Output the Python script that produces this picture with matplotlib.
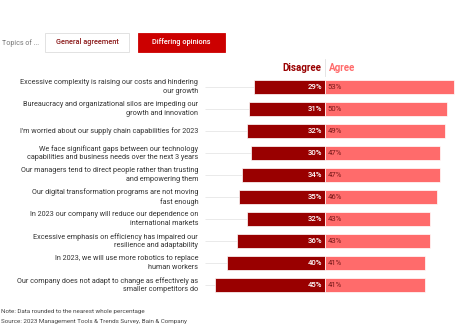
import matplotlib.pyplot as plt
from matplotlib.patches import FancyBboxPatch

plt.rcParams['font.family'] = ['Roboto', 'DejaVu Sans']

statements = [
    "Excessive complexity is raising our costs and hindering\nour growth",
    "Bureaucracy and organizational silos are impeding our\ngrowth and innovation",
    "I'm worried about our supply chain capabilities for 2023",
    "We face significant gaps between our technology\ncapabilities and business needs over the next 3 years",
    "Our managers tend to direct people rather than trusting\nand empowering them",
    "Our digital transformation programs are not moving\nfast enough",
    "In 2023 our company will reduce our dependence on\ninternational markets",
    "Excessive emphasis on efficiency has impaired our\nresilience and adaptability",
    "In 2023, we will use more robotics to replace\nhuman workers",
    "Our company does not adapt to change as effectively as\nsmaller competitors do",
]
disagree = [29, 31, 32, 30, 34, 35, 32, 36, 40, 45]
agree = [53, 50, 49, 47, 47, 46, 43, 43, 41, 41]

dark_red = '#990000'
light_red = '#ff6b6b'
grey_text = '#333333'

fig = plt.figure(figsize=(4.74, 3.35), dpi=100)
ax = fig.add_axes([205 / 474, 1 - 296 / 335, 1 - 205 / 474, 220 / 335])

y = list(range(len(statements)))
xmin, xmax = -49, 61

# thin guide lines from the label column to each bar
ax.hlines(y, xmin, [-d for d in disagree], color='#e6e6e6', lw=0.6, zorder=1)

ax.barh(y, [-d for d in disagree], height=0.6, color=dark_red,
        edgecolor='white', linewidth=0.5, zorder=2)
ax.barh(y, agree, height=0.6, color=light_red,
        edgecolor='white', linewidth=0.5, zorder=2)

for i in y:
    ax.text(-1.2, i, f"{disagree[i]}%", ha='right', va='center',
            color='white', fontsize=5.6, fontweight='medium', zorder=3)
    ax.text(1.2, i, f"{agree[i]}%", ha='left', va='center',
            color='#7a1a1a', fontsize=5.6, zorder=3)
    ax.text(xmin - 2.8, i, statements[i], ha='right', va='center',
            fontsize=5.25, color=grey_text, linespacing=1.3)

ax.set_xlim(xmin, xmax)
ax.set_ylim(len(statements) - 0.5, -0.5)
ax.axis('off')

# column headers
ax.text(-1.5, -0.85, "Disagree", ha='right', va='center',
        color=dark_red, fontsize=7, fontweight='bold')
ax.text(1.5, -0.85, "Agree", ha='left', va='center',
        color=light_red, fontsize=7, fontweight='bold')
ax.plot([0, 0], [-0.5, -1.25], color='#e0e0e0', lw=0.6, clip_on=False)

# toggle buttons at the top
fig.text(2 / 474, 1 - 43 / 335, "Topics of ...", fontsize=5.1,
         color='#777777', va='center')
btn1 = FancyBboxPatch((45 / 474, 1 - 52 / 335), 84 / 474, 19 / 335,
                      boxstyle='square,pad=0', transform=fig.transFigure,
                      facecolor='white', edgecolor='#dddddd', lw=0.6)
btn2 = FancyBboxPatch((138 / 474, 1 - 52 / 335), 87 / 474, 19 / 335,
                      boxstyle='square,pad=0', transform=fig.transFigure,
                      facecolor='#cc0000', edgecolor='#cc0000', lw=0.6)
fig.patches.extend([btn1, btn2])
fig.text(87 / 474, 1 - 42.5 / 335, "General agreement", fontsize=5.3,
         color='#8b1a1a', ha='center', va='center', fontweight='medium')
fig.text(181.5 / 474, 1 - 42.5 / 335, "Differing opinions", fontsize=5.3,
         color='white', ha='center', va='center', fontweight='medium')

# footnotes
fig.text(1 / 474, 1 - 312 / 335, "Note: Data rounded to the nearest whole percentage",
         fontsize=4.5, color='#444444', va='center')
fig.text(1 / 474, 1 - 321 / 335,
         "Source: 2023 Management Tools & Trends Survey, Bain & Company",
         fontsize=4.5, color='#444444', va='center')

fig.savefig('out.png', dpi=100)
